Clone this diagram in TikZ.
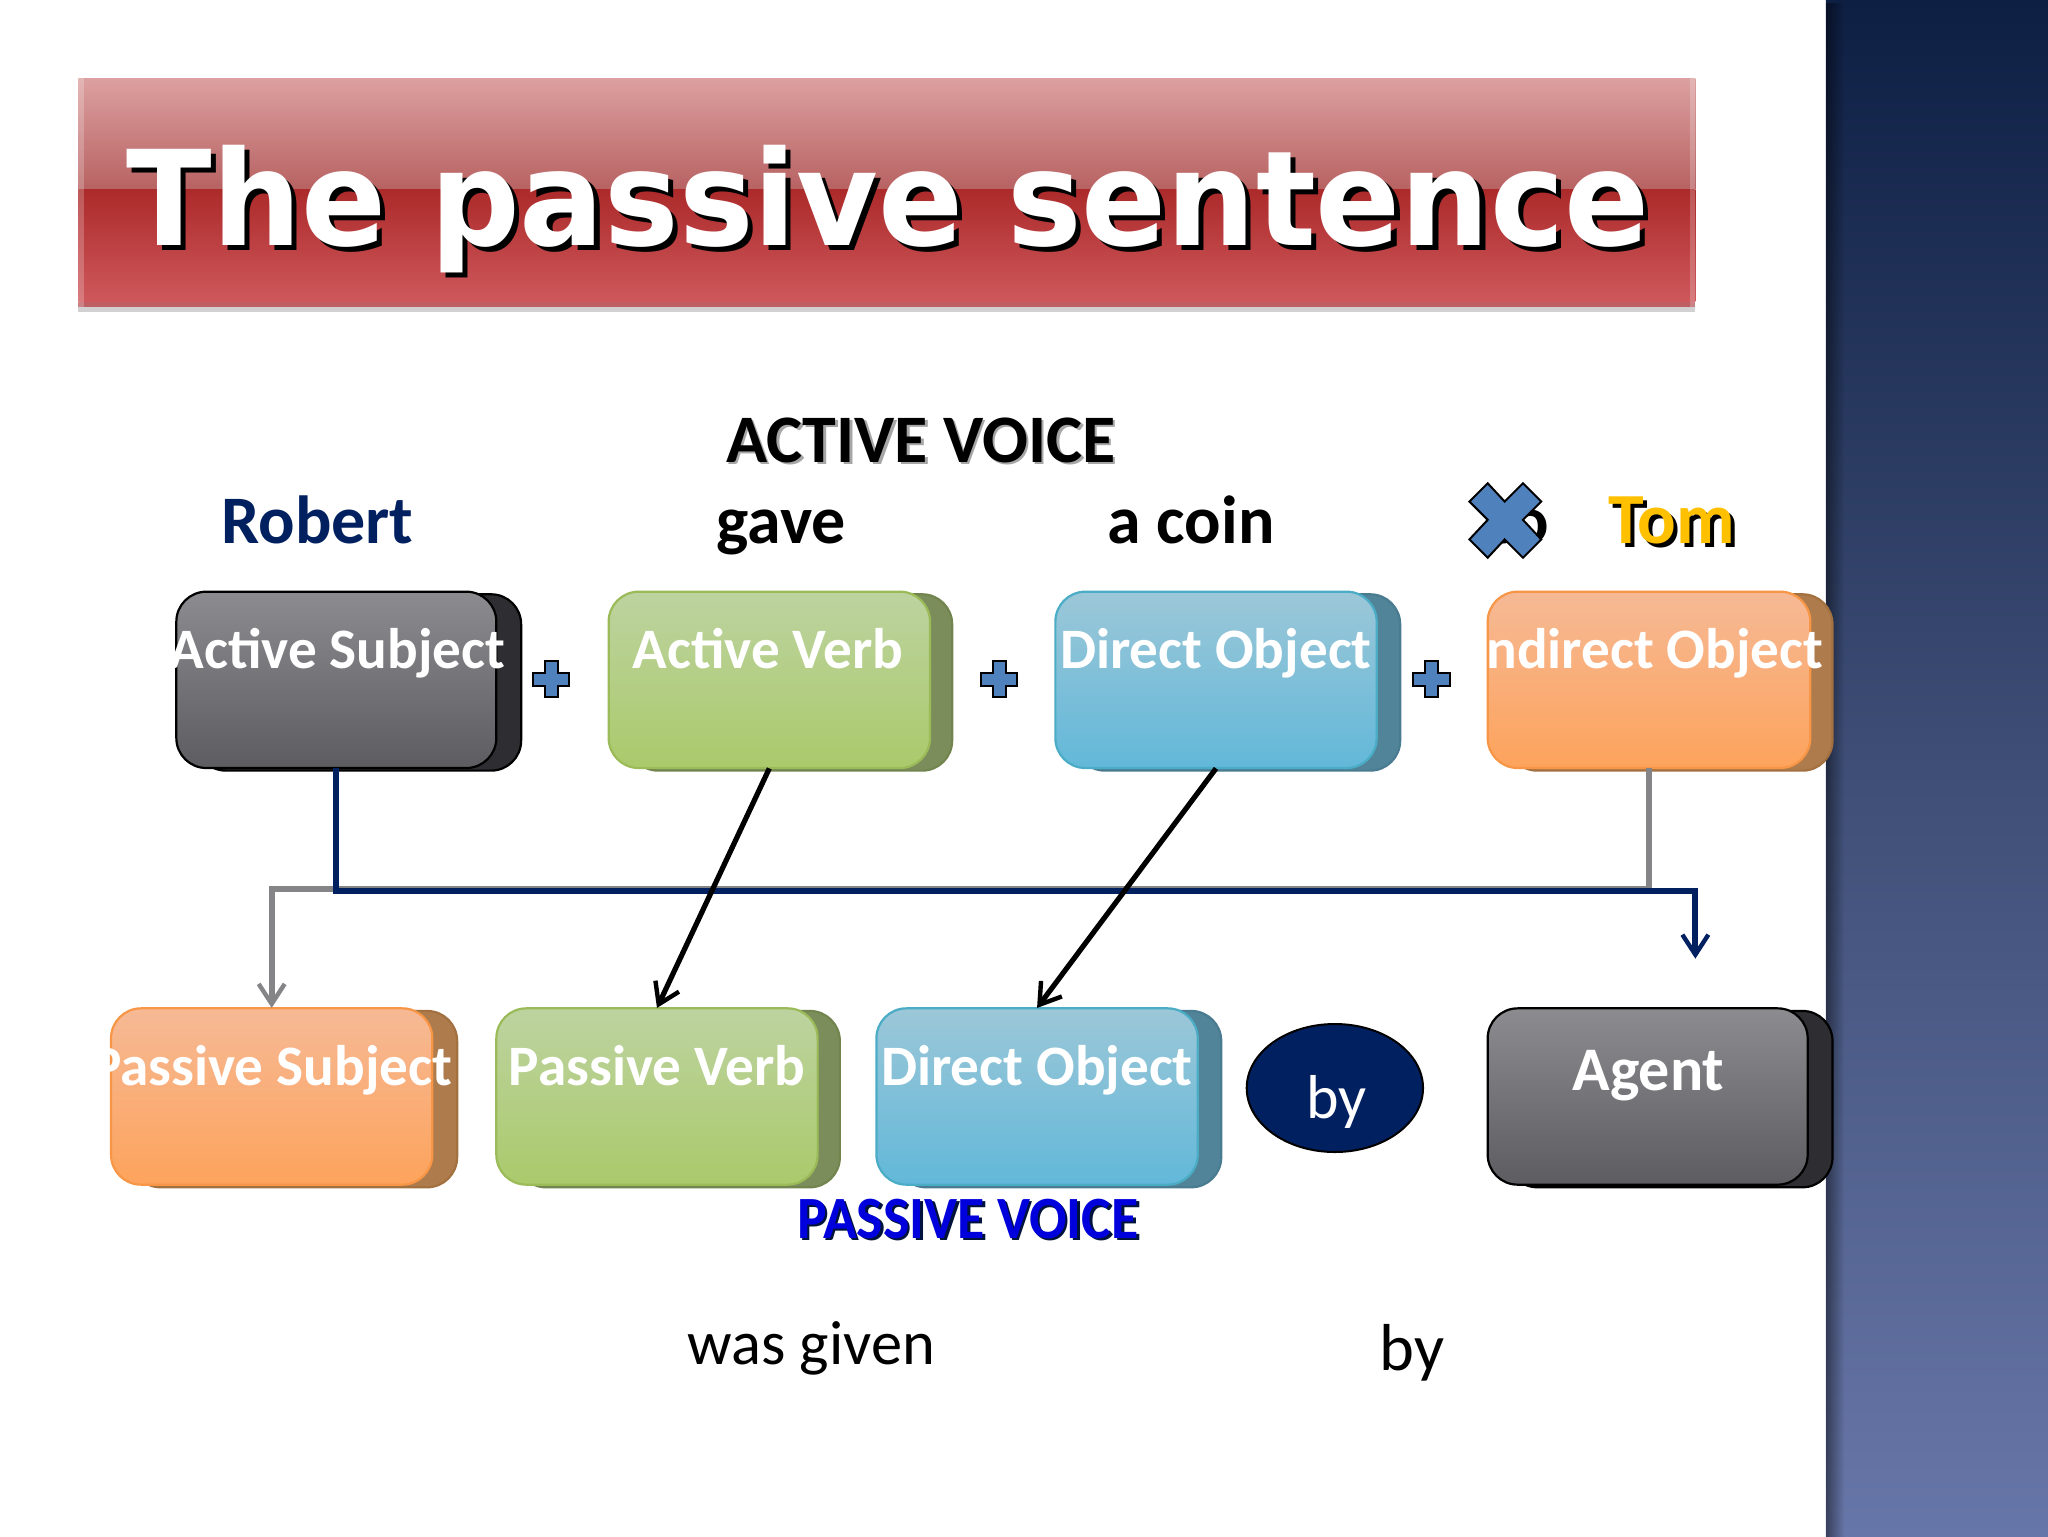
\documentclass[tikz,border=0pt]{standalone}
\usepackage{fontspec}
\setmainfont{Carlito}
\newfontfamily\titlefont[FakeStretch=0.95]{DejaVu Sans}
\newfontfamily\condfont[FakeStretch=0.93]{Carlito}
\usetikzlibrary{arrows.meta,fadings,shapes.geometric}
\definecolor{navyc}{HTML}{002060}
\definecolor{crossc}{HTML}{4F81BD}
\definecolor{linegray}{HTML}{858486}
\definecolor{gray1}{HTML}{8C8B8F}\definecolor{gray2}{HTML}{5D5C60}\definecolor{gray3}{HTML}{2E2D31}
\definecolor{green1}{HTML}{BDD3A0}\definecolor{green2}{HTML}{AACA6B}\definecolor{green3}{HTML}{7B8D5B}\definecolor{green0}{HTML}{9BBB59}\definecolor{green4}{HTML}{73854F}
\definecolor{blue1}{HTML}{9CC7D8}\definecolor{blue2}{HTML}{62B8D9}\definecolor{blue3}{HTML}{518499}\definecolor{blue0}{HTML}{4BACC6}\definecolor{blue4}{HTML}{4A7C91}
\definecolor{orange1}{HTML}{F6B995}\definecolor{orange2}{HTML}{FDA35C}\definecolor{orange3}{HTML}{AE7B4D}\definecolor{orange0}{HTML}{F79646}\definecolor{orange4}{HTML}{A3703F}
\definecolor{panel1}{RGB}{14,31,68}\definecolor{panel2}{RGB}{62,78,118}\definecolor{panel3}{RGB}{103,118,168}
\definecolor{band1}{RGB}{220,160,160}\definecolor{band2}{RGB}{184,98,98}\definecolor{band3}{RGB}{172,42,42}\definecolor{band4}{RGB}{206,88,92}
\definecolor{goldc}{RGB}{255,192,0}\definecolor{passblue}{RGB}{0,0,220}
\tikzset{
  x=0.65306pt,y=-0.65306pt,
  boxbase/.style={rounded corners=15pt,inner sep=0,line width=1.1pt},
  graybox/.style={boxbase,draw=black,top color=gray1,bottom color=gray2},
  grayshade/.style={boxbase,draw=black,fill=gray3},
  greenbox/.style={boxbase,draw=green0,top color=green1,bottom color=green2},
  greenshade/.style={boxbase,draw=green4,fill=green3},
  bluebox/.style={boxbase,draw=blue0,top color=blue1,bottom color=blue2},
  blueshade/.style={boxbase,draw=blue4,fill=blue3},
  orangebox/.style={boxbase,draw=orange0,top color=orange1,bottom color=orange2},
  orangeshade/.style={boxbase,draw=orange4,fill=orange3},
  boxtext/.style={text=white,font=\fontsize{28.6}{30}\selectfont\bfseries,anchor=base,inner sep=0},
  headtext/.style={font=\fontsize{34}{36}\selectfont\bfseries,anchor=base,inner sep=0},
  plaintext/.style={font=\fontsize{31.2}{33}\selectfont,anchor=base,inner sep=0,text=black},
  navyline/.style={draw=navyc,line width=3pt,line join=miter},
  grayline/.style={draw=linegray,line width=3pt},
  blackline/.style={draw=black,line width=2.6pt},
  openhead/.style={-{Straight Barb[length=10pt,width=13pt,line width=2.2pt]}},
  crossmark/.style={fill=crossc,draw=black,line width=1pt,line join=miter},
}
\newcommand{\twobox}[6]{% name, style prefix, x0, x1, shadow x1, y0
  \pgfmathsetmacro{\ybot}{#6+135}
  \path[#2shade] (#3+15,#6+2) rectangle (#5,\ybot+2);
  \path[#2box] (#3,#6) rectangle (#4,\ybot);
  \pgfmathsetmacro{\xc}{(#3+#4)/2}
  \pgfmathsetmacro{\yc}{#6+67.5}
  \pgfmathsetmacro{\bw}{0.65306*(#4-#3)}
  \node[minimum width=\bw pt,minimum height=88.16pt,inner sep=0] (#1) at (\xc,\yc) {};
}
\newcommand{\plusmark}[2]{%
  \draw[crossmark] (#1-5,#2-14)--(#1+5,#2-14)--(#1+5,#2-5)--(#1+14,#2-5)--(#1+14,#2+5)--(#1+5,#2+5)--(#1+5,#2+14)--(#1-5,#2+14)--(#1-5,#2+5)--(#1-14,#2+5)--(#1-14,#2-5)--(#1-5,#2-5)--cycle;
}
\begin{document}
\begin{tikzpicture}
\useasboundingbox (0,0) rectangle (1568,1176);
\fill[white] (0,0) rectangle (1568,1176);
% right panel
\shade[top color=panel1,bottom color=panel3,middle color=panel2] (1398,0) rectangle (1568,1176);
\fill[black,opacity=.45,path fading=east] (1398,0) rectangle (1412,1176);
% title band
\fill[black,opacity=.18] (60,233) rectangle (1298,239);
\shade[top color=band1,bottom color=band2] (60,60) rectangle (1298,145);
\shade[top color=band3,bottom color=band4] (60,145) rectangle (1298,231);
\fill[band4!80!gray] (60,231) rectangle (1298,235);
\fill[white,opacity=.22] (60,60) rectangle (64,235);
\fill[white,opacity=.22] (1294,60) rectangle (1298,235);
\node[font=\titlefont\bfseries\fontsize{66}{66}\selectfont,text=black,anchor=base,inner sep=0] (titleshade) at (684,192) {The passive sentence};
\node[font=\titlefont\bfseries\fontsize{66}{66}\selectfont,text=white,anchor=base,inner sep=0] (title) at (680,188) {The passive sentence};
% headings
\node[headtext,text=black!35] (avs) at (707,356) {ACTIVE VOICE};
\node[headtext,text=black] (av) at (705,354) {ACTIVE VOICE};
\node[headtext,text=navyc] (robert) at (243,416) {Robert};
\node[headtext,text=black] (gave) at (598,416) {gave};
\node[headtext,text=black] (coin) at (912,416) {a coin};
\node[headtext,text=black] (to) at (1163,416) {to};
\draw[crossmark] (1125,384)--(1139,370)--(1152,384)--(1166,370)--(1180,384)--(1166,398)--(1180,413)--(1166,427)--(1152,413)--(1139,427)--(1125,413)--(1139,398)--cycle;
\node[headtext,font=\fontsize{36}{36}\selectfont\bfseries,text=black] (toms) at (1283,419) {Tom};
\node[headtext,font=\fontsize{36}{36}\selectfont\bfseries,text=goldc] (tom) at (1280,416) {Tom};
% boxes top row
\twobox{as}{gray}{135}{380}{399}{453}
\twobox{avb}{green}{466}{712}{729}{453}
\twobox{doa}{blue}{808}{1054}{1072}{453}
\twobox{io}{orange}{1139}{1386}{1403}{453}
% boxes bottom row
\twobox{ps}{orange}{85}{331}{350}{772}
\twobox{pvb}{green}{380}{626}{643}{772}
\twobox{dop}{blue}{671}{917}{935}{772}
\twobox{ag}{gray}{1139}{1384}{1403}{772}
\begin{scope}
\clip (134,470) rectangle (500,530);
\node[boxtext] (astext) at (258.5,512) {Active Subject};
\end{scope}
\node[boxtext] (avtext) at (588,512) {Active Verb};
\node[boxtext] (dotext) at (931,512) {Direct Object};
\node[boxtext] (iotext) at (1267,512) {ndirect Object};
\begin{scope}
\clip (84,790) rectangle (360,850);
\node[boxtext] (pstext) at (208,831) {Passive Subject};
\end{scope}
\node[boxtext] (pvtext) at (503,831) {Passive Verb};
\node[boxtext] (dptext) at (794,831) {Direct Object};
\node[boxtext,font=\fontsize{31}{33}\selectfont\bfseries] (agtext) at (1262,835) {Agent};
% by ellipse
\node[draw=black,line width=1pt,fill=navyc,ellipse,minimum width=88.16pt,minimum height=64pt,inner sep=0] (byel) at (1022,833) {};
\node[plaintext,text=white,font=\fontsize{31}{33}\selectfont] (bytext) at (1023,856) {by};
% plus marks
\plusmark{422}{520}
\plusmark{765}{520}
\plusmark{1096}{520}
% passive heading and lower text
\node[headtext,font=\condfont\bfseries\fontsize{30}{30}\selectfont,text=navyc!60!black] (pvs) at (743,950) {PASSIVE VOICE};
\node[headtext,font=\condfont\bfseries\fontsize{30}{30}\selectfont,text=passblue] (pv) at (741,948) {PASSIVE VOICE};
\node[plaintext] (given) at (621,1045) {was given};
\node[plaintext,font=\fontsize{33.2}{35}\selectfont] (by) at (1081,1049) {by};
% connectors
\coordinate (grayrun) at (0,680.5);
\coordinate (navyrun) at (0,682);
\coordinate (agentend) at (1298,734);
\draw[grayline,openhead] (io.south) -- (io.south |- grayrun) -- (ps.north |- grayrun) -- (ps.north);
\draw[navyline,openhead] (as.south) -- (as.south |- navyrun) -- (agentend |- navyrun) -- (agentend);
\draw[blackline,openhead] (avb.south) -- (pvb.north);
\draw[blackline,openhead] (doa.south) -- (dop.north);
\end{tikzpicture}
\end{document}
